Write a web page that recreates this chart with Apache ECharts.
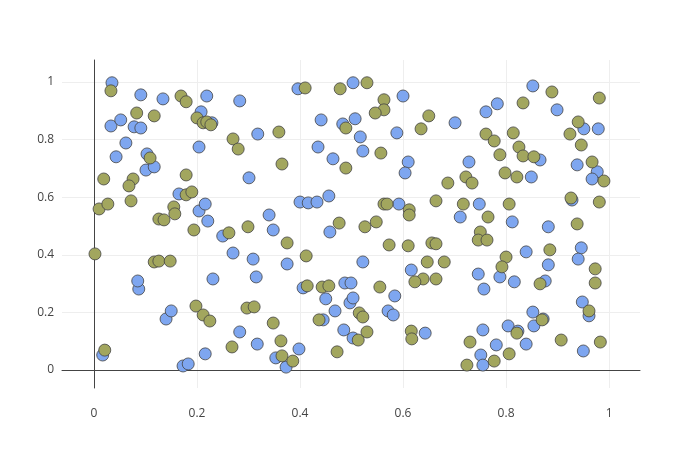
<!DOCTYPE html>
<html><head><meta charset="utf-8">
<script src="https://cdn.jsdelivr.net/npm/echarts@6/dist/echarts.min.js"></script>
<style>html,body{margin:0;padding:0;background:#fff}#c{width:700px;height:450px}</style>
</head><body><div id="c"></div>
<script>
const tickValues = [0, 0.2, 0.4, 0.6, 0.8, 1];
const blueX = [.035,.091,.134,.033,.052,.078,.091,.062,.043,.103,.101,.117,.165,.204,.208,.219,.229,.204,.216,.221,.250,.270,.231,.087,.085,.140,.150,.017,.173,.183,.216,.283,.283,.396,.503,.600,.441,.483,.507,.517,.318,.588,.435,.464,.522,.610,.604,.301,.456,.400,.416,.433,.592,.340,.348,.458,.309,.375,.522,.616,.315,.406,.487,.499,.450,.497,.503,.584,.468,.571,.581,.445,.317,.353,.373,.398,.485,.503,.643,.852,.783,.761,.899,.701,.951,.979,.728,.866,.849,.938,.977,.967,.928,.748,.711,.812,.882,.839,.946,.940,.882,.746,.788,.816,.876,.757,.948,.961,.852,.872,.854,.804,.823,.755,.839,.781,.751,.755,.950];
const blueY = [.997,.955,.941,.847,.868,.844,.840,.788,.740,.750,.694,.705,.611,.774,.896,.951,.858,.552,.576,.517,.465,.406,.316,.281,.309,.177,.205,.052,.014,.021,.056,.132,.934,.976,.997,.951,.868,.854,.872,.809,.819,.823,.774,.733,.760,.722,.684,.667,.604,.583,.580,.583,.576,.538,.486,.479,.385,.368,.375,.347,.323,.285,.302,.302,.247,.233,.250,.257,.205,.205,.191,.174,.090,.042,.010,.073,.139,.111,.128,.986,.924,.896,.903,.858,.837,.837,.722,.729,.670,.712,.688,.663,.590,.576,.531,.514,.497,.410,.424,.385,.365,.333,.323,.306,.309,.281,.236,.188,.201,.177,.153,.153,.135,.139,.090,.087,.052,.017,.066];
const oliveX = [.033,.083,.117,.169,.179,.200,.212,.219,.227,.270,.280,.109,.019,.076,.068,.072,.010,.027,.179,.179,.190,.155,.157,.126,.136,.194,.262,.002,.117,.126,.148,.198,.212,.225,.021,.268,.410,.478,.530,.563,.563,.546,.650,.635,.489,.359,.365,.557,.489,.563,.569,.612,.612,.548,.526,.476,.299,.375,.412,.573,.610,.656,.664,.647,.639,.623,.414,.443,.456,.555,.297,.311,.348,.437,.515,.522,.530,.513,.616,.617,.363,.365,.386,.472,.833,.889,.981,.940,.924,.946,.761,.777,.814,.825,.833,.854,.788,.798,.821,.722,.734,.687,.967,.990,.664,.717,.806,.765,.926,.981,.938,.750,.746,.763,.885,.680,.800,.792,.973,.973,.664,.866,.961,.870,.821,.730,.907,.983,.806,.777,.724];
const oliveY = [.969,.892,.882,.951,.931,.875,.858,.861,.851,.802,.767,.736,.663,.663,.639,.587,.559,.576,.677,.608,.618,.566,.542,.524,.521,.486,.476,.403,.375,.378,.378,.222,.191,.170,.069,.080,.979,.976,.997,.938,.903,.892,.882,.837,.840,.826,.715,.753,.701,.576,.576,.556,.538,.514,.497,.510,.497,.441,.396,.434,.431,.441,.438,.375,.316,.306,.292,.288,.292,.288,.215,.219,.163,.174,.198,.184,.132,.104,.135,.108,.101,.049,.031,.063,.927,.965,.944,.861,.819,.781,.819,.795,.823,.774,.743,.740,.747,.684,.670,.670,.649,.649,.722,.656,.587,.576,.576,.531,.597,.583,.507,.479,.451,.451,.417,.375,.392,.358,.351,.302,.316,.299,.205,.174,.128,.097,.104,.097,.056,.031,.017];

const zip = (xs, ys) => xs.map((x, i) => [x, ys[i]]);
const axisCommon = {
  type: 'value',
  axisLine: { onZero: true, lineStyle: { color: '#444', width: 1 } },
  axisTick: { show: false, customValues: tickValues },
  axisLabel: { customValues: tickValues, color: '#444', fontSize: 12, fontFamily: 'Open Sans' },
  splitLine: { show: true, lineStyle: { color: '#eee', width: 1 } }
};
const chart = echarts.init(document.getElementById('c'));
chart.setOption({
  animation: false,
  grid: { left: 62, right: 60, top: 60, bottom: 62, containLabel: false },
  xAxis: Object.assign({}, axisCommon, { min: -0.062, max: 1.06, axisLabel: Object.assign({}, axisCommon.axisLabel, { margin: 20 }) }),
  yAxis: Object.assign({}, axisCommon, { min: -0.0625, max: 1.076, axisLabel: Object.assign({}, axisCommon.axisLabel, { margin: 8 }) }),
  series: [
    { type: 'scatter', data: zip(blueX, blueY), symbolSize: 12,
      itemStyle: { color: '#7ea6f0', borderColor: '#444', borderWidth: 0.8, opacity: 1 } },
    { type: 'scatter', data: zip(oliveX, oliveY), symbolSize: 12,
      itemStyle: { color: '#a2a65e', borderColor: '#444', borderWidth: 0.8, opacity: 1 } }
  ]
});
</script></body></html>
